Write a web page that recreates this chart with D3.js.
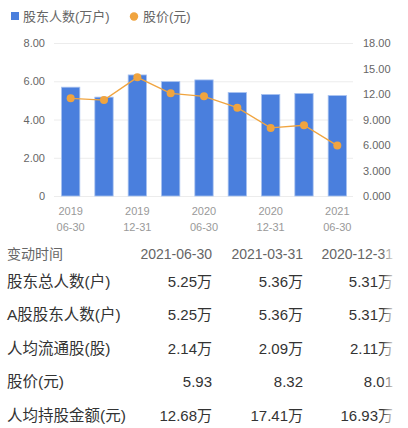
<!DOCTYPE html>
<html><head><meta charset="utf-8">
<script src="https://cdn.jsdelivr.net/npm/d3@7"></script>
<style>
html,body{margin:0;padding:0;background:#fff;}
svg{display:block;font-family:"Liberation Sans","Noto Sans CJK SC",sans-serif;}
</style></head>
<body><svg id="c" width="408" height="428"></svg>
<script>
const dates = ["2019-06-30","2019-09-30","2019-12-31","2020-03-31","2020-06-30","2020-09-30","2020-12-31","2021-03-31","2021-06-30"];
const holders = [5.69, 5.17, 6.33, 5.98, 6.07, 5.41, 5.31, 5.36, 5.25];
const prices = [11.49, 11.29, 13.96, 12.08, 11.73, 10.39, 8.01, 8.32, 5.93];
const leftTicks = [0, 2, 4, 6, 8];
const leftTickLabels = ["0", "2.00", "4.00", "6.00", "8.00"];
const rightTicks = [0, 3, 6, 9, 12, 15, 18];
const rightTickLabels = ["0.000", "3.000", "6.000", "9.000", "12.00", "15.00", "18.00"];
const legendLabels = ["股东人数(万户)", "股价(元)"];
const tableHeader = ["变动时间", "2021-06-30", "2021-03-31", "2020-12-31"];
const rowLabels = ["股东总人数(户)", "A股股东人数(户)", "人均流通股(股)", "股价(元)", "人均持股金额(元)"];
const col1 = ["5.25万", "5.25万", "2.14万", "5.93", "12.68万"];
const col2 = ["5.36万", "5.36万", "2.09万", "8.32", "17.41万"];
const col3 = ["5.31万", "5.31万", "2.11万", "8.01", "16.93万"];

const svg = d3.select("#c");
const blue = "#4a7fdd", orange = "#f0a43f";

const x = d3.scaleBand().domain(dates).range([54, 354]).paddingInner(0.45).paddingOuter(0.225);
const yL = d3.scaleLinear().domain([0, 8]).range([196, 43]);
const yR = d3.scaleLinear().domain([0, 18]).range([196, 43]);

// gridlines
svg.append("g").selectAll("line").data(leftTicks).join("line")
  .attr("x1", 54).attr("x2", 353)
  .attr("y1", d => yL(d) + 0.5).attr("y2", d => yL(d) + 0.5)
  .attr("stroke", "#ececec").attr("stroke-width", 1);

// left axis
const la = svg.append("g").attr("transform", "translate(45,0)")
  .call(d3.axisLeft(yL).tickValues(leftTicks).tickSize(0).tickPadding(0)
    .tickFormat((d, i) => leftTickLabels[i]));
la.select(".domain").remove();
la.selectAll("text").attr("fill", "#666").attr("font-size", 11).attr("font-family", "Liberation Sans");

// right axis
const ra = svg.append("g").attr("transform", "translate(363,0)")
  .call(d3.axisRight(yR).tickValues(rightTicks).tickSize(0).tickPadding(0)
    .tickFormat((d, i) => rightTickLabels[i]));
ra.select(".domain").remove();
ra.selectAll("text").attr("fill", "#666").attr("font-size", 11).attr("font-family", "Liberation Sans");

// bars
svg.append("g").selectAll("rect").data(holders).join("rect")
  .attr("x", (d, i) => x(dates[i]))
  .attr("y", d => yL(d))
  .attr("width", x.bandwidth())
  .attr("height", d => yL(0) - yL(d))
  .attr("fill", blue)
  .attr("stroke", "#a9c3f0").attr("stroke-width", 0.8);

// line
const cx = i => x(dates[i]) + x.bandwidth() / 2;
svg.append("path").datum(prices)
  .attr("d", d3.line().x((d, i) => cx(i)).y(d => yR(d)))
  .attr("fill", "none").attr("stroke", orange).attr("stroke-width", 1.3);
svg.append("g").selectAll("circle").data(prices).join("circle")
  .attr("cx", (d, i) => cx(i)).attr("cy", d => yR(d)).attr("r", 4)
  .attr("fill", orange);

// x labels (every other)
const xl = svg.append("g").selectAll("text").data(dates.filter((d, i) => i % 2 === 0)).join("text")
  .attr("text-anchor", "middle").attr("fill", "#999").attr("font-size", 11)
  .attr("font-family", "Liberation Sans");
xl.append("tspan").attr("x", d => x(d) + x.bandwidth() / 2).attr("y", 215).text(d => d.slice(0, 4));
xl.append("tspan").attr("x", d => x(d) + x.bandwidth() / 2).attr("y", 231).text(d => d.slice(5));

// legend
svg.append("rect").attr("x", 11).attr("y", 12).attr("width", 8).attr("height", 8).attr("fill", blue);
svg.append("text").attr("x", 23).attr("y", 21).attr("font-size", 13).attr("fill", "#666").text(legendLabels[0]);
svg.append("circle").attr("cx", 134).attr("cy", 16.5).attr("r", 4.2).attr("fill", orange);
svg.append("text").attr("x", 143).attr("y", 21).attr("font-size", 13).attr("fill", "#666").text(legendLabels[1]);

// table
const colX = [212, 303, 393];
const headY = 259;
svg.append("text").attr("x", 7).attr("y", headY).attr("font-size", 14).attr("fill", "#666").text(tableHeader[0]);
tableHeader.slice(1).forEach((t, j) => {
  svg.append("text").attr("x", colX[j]).attr("y", headY).attr("text-anchor", "end")
    .attr("font-size", 14).attr("fill", "#666").text(t);
});
const rowY = [287, 320, 353.5, 387, 420.5];
const cols = [col1, col2, col3];
rowLabels.forEach((r, i) => {
  svg.append("text").attr("x", 7).attr("y", rowY[i]).attr("font-size", 15.5).attr("fill", "#333").text(r);
  cols.forEach((c, j) => {
    svg.append("text").attr("x", colX[j]).attr("y", rowY[i]).attr("text-anchor", "end")
      .attr("font-size", 15).attr("fill", "#333").text(c[i]);
  });
});

// right fade
const defs = svg.append("defs");
const g = defs.append("linearGradient").attr("id", "fade").attr("x1", 0).attr("x2", 1).attr("y1", 0).attr("y2", 0);
g.append("stop").attr("offset", 0).attr("stop-color", "#fff").attr("stop-opacity", 0);
g.append("stop").attr("offset", 1).attr("stop-color", "#fff").attr("stop-opacity", 1);
svg.append("rect").attr("x", 382).attr("y", 240).attr("width", 14).attr("height", 188).attr("fill", "url(#fade)");
svg.append("rect").attr("x", 396).attr("y", 240).attr("width", 12).attr("height", 188).attr("fill", "#fff");
</script></body></html>
